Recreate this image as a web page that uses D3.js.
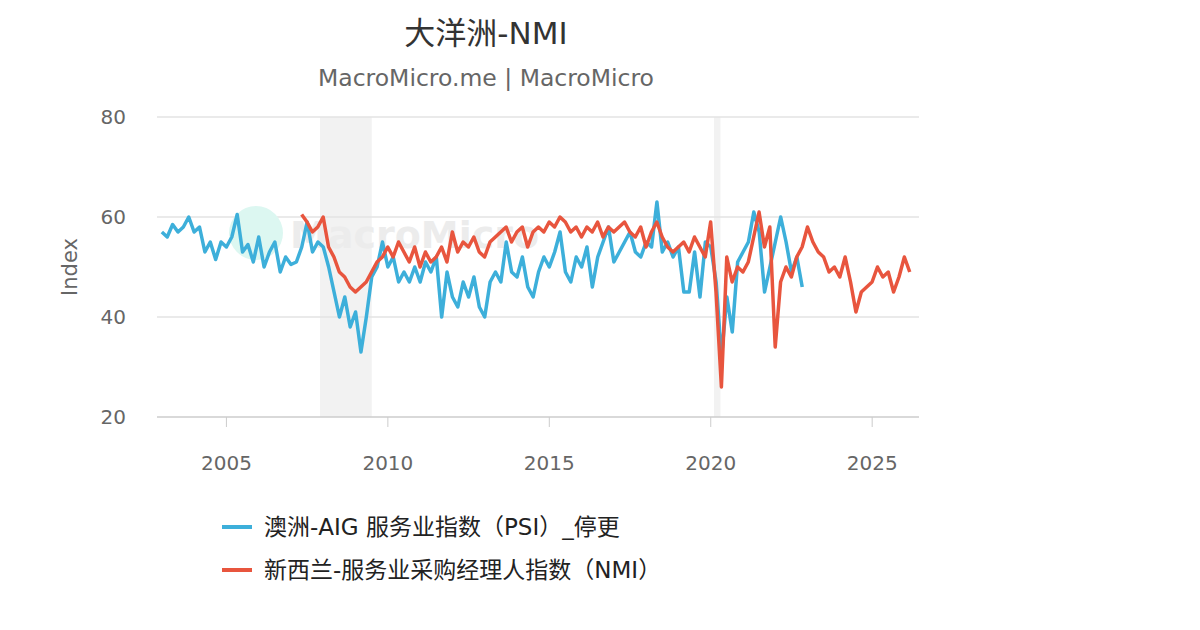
<!DOCTYPE html><html><head><meta charset="utf-8"><script src="https://cdn.jsdelivr.net/npm/d3@7"></script>
<style>body{margin:0;background:#fff;font-family:"DejaVu Sans","Noto Sans CJK SC",sans-serif}</style></head><body><svg id="c" width="1200" height="630"></svg><script>
const psiStart=2003.0;
const psiValues=[57,56,58.5,57,58,60, 57,58,53,55,51.5,55, 54,56,60.5,53,54.5,51, 56,50,53,55,49,52, 50.5,51,54,59,53,55, 54,50,45,40,44,38, 41,33,40,48,50,55, 50,52,47,49,47,50, 47,51,49,52,40,49, 44,42,47,44,48,42, 40,47,49,47,55,49, 48,52,46,44,49,52, 50,53,57,49,47,52, 50,54,46,52,55,58, 51,53,55,57,53,52, 55,54,63,53,55,52, 54,45,45,53,44,55, 54,47,32,44,37,51, 53,55,61,57,45,50, 55,60,55,49,52,46];
const nmiStart=2007.33;
const nmiValues=[60.5,59,57,58,60, 54,52,49,48,46,45, 46,47,49,51,52,54, 52,55,53,51,54,50, 53,51,52,54,51,57, 53,55,54,56,53,52, 55,56,57,58,55,57, 58,54,57,58,57,59, 58,60,59,57,58,56, 58,57,59,56,58,57, 58,59,57,56,58,54, 57,59,56,54,53,54, 55,53,56,54,52,59, 45,26,52,47,50,49, 51,56,61,54,58,34, 47,50,48,52,54,58, 55,53,52,49,50,48, 52,47,41,45,46,47, 50,48,49,45,48,52, 49];
const recessions=[[2007.9,2009.5],[2020.1,2020.3]];
const yTicks=[20,40,60,80], xTicks=[2005,2010,2015,2020,2025];
const svg=d3.select("#c");
const x=d3.scaleLinear().domain([2002.85,2026.45]).range([157,919]);
const y=d3.scaleLinear().domain([20,80]).range([417,117]);
svg.append("text").attr("x",486).attr("y",44).attr("text-anchor","middle").attr("font-size",31).attr("fill","#333").text("大洋洲-NMI");
svg.append("text").attr("x",486).attr("y",86).attr("text-anchor","middle").attr("font-size",23.5).attr("fill","#666").text("MacroMicro.me | MacroMicro");
recessions.forEach(r=>svg.append("rect").attr("x",x(r[0])).attr("width",x(r[1])-x(r[0])).attr("y",117).attr("height",300).attr("fill","#f2f2f2"));
yTicks.forEach(t=>{svg.append("line").attr("x1",157).attr("x2",919).attr("y1",y(t)).attr("y2",y(t)).attr("stroke",t==20?"#ccc":"#e3e3e3").attr("stroke-width",1.5);
svg.append("text").attr("x",126).attr("y",y(t)+7).attr("text-anchor","end").attr("font-size",20).attr("fill","#666").text(t);});
xTicks.forEach(t=>{svg.append("line").attr("x1",x(t)).attr("x2",x(t)).attr("y1",417).attr("y2",427).attr("stroke","#ccc");
svg.append("text").attr("x",x(t)).attr("y",470).attr("text-anchor","middle").attr("font-size",20).attr("fill","#666").text(t);});
svg.append("text").attr("transform","translate(77,267) rotate(-90)").attr("text-anchor","middle").attr("font-size",21).attr("fill","#666").text("Index");
svg.append("circle").attr("cx",256).attr("cy",233).attr("r",27).attr("fill","#dcf7f1");
svg.append("text").attr("x",290).attr("y",248).attr("font-size",38).attr("font-weight","bold").attr("fill","#ececec").text("MacroMicro");
const line=d3.line().x(d=>x(d[0])).y(d=>y(d[1]));
const mk=(s,v)=>v.map((d,i)=>[s+i/6,d]);
svg.append("path").attr("d",line(mk(psiStart,psiValues))).attr("fill","none").attr("stroke","#3dafda").attr("stroke-width",3.5).attr("stroke-linejoin","round");
svg.append("path").attr("d",line(mk(nmiStart,nmiValues))).attr("fill","none").attr("stroke","#e8553e").attr("stroke-width",3.5).attr("stroke-linejoin","round");
[["澳洲-AIG 服务业指数（PSI）_停更","#3dafda",527],["新西兰-服务业采购经理人指数（NMI）","#e8553e",570]].forEach(l=>{
svg.append("line").attr("x1",222).attr("x2",252).attr("y1",l[2]).attr("y2",l[2]).attr("stroke",l[1]).attr("stroke-width",4);
svg.append("text").attr("x",264).attr("y",l[2]+8).attr("font-size",23).attr("fill","#222").text(l[0]);});
</script></body></html>
